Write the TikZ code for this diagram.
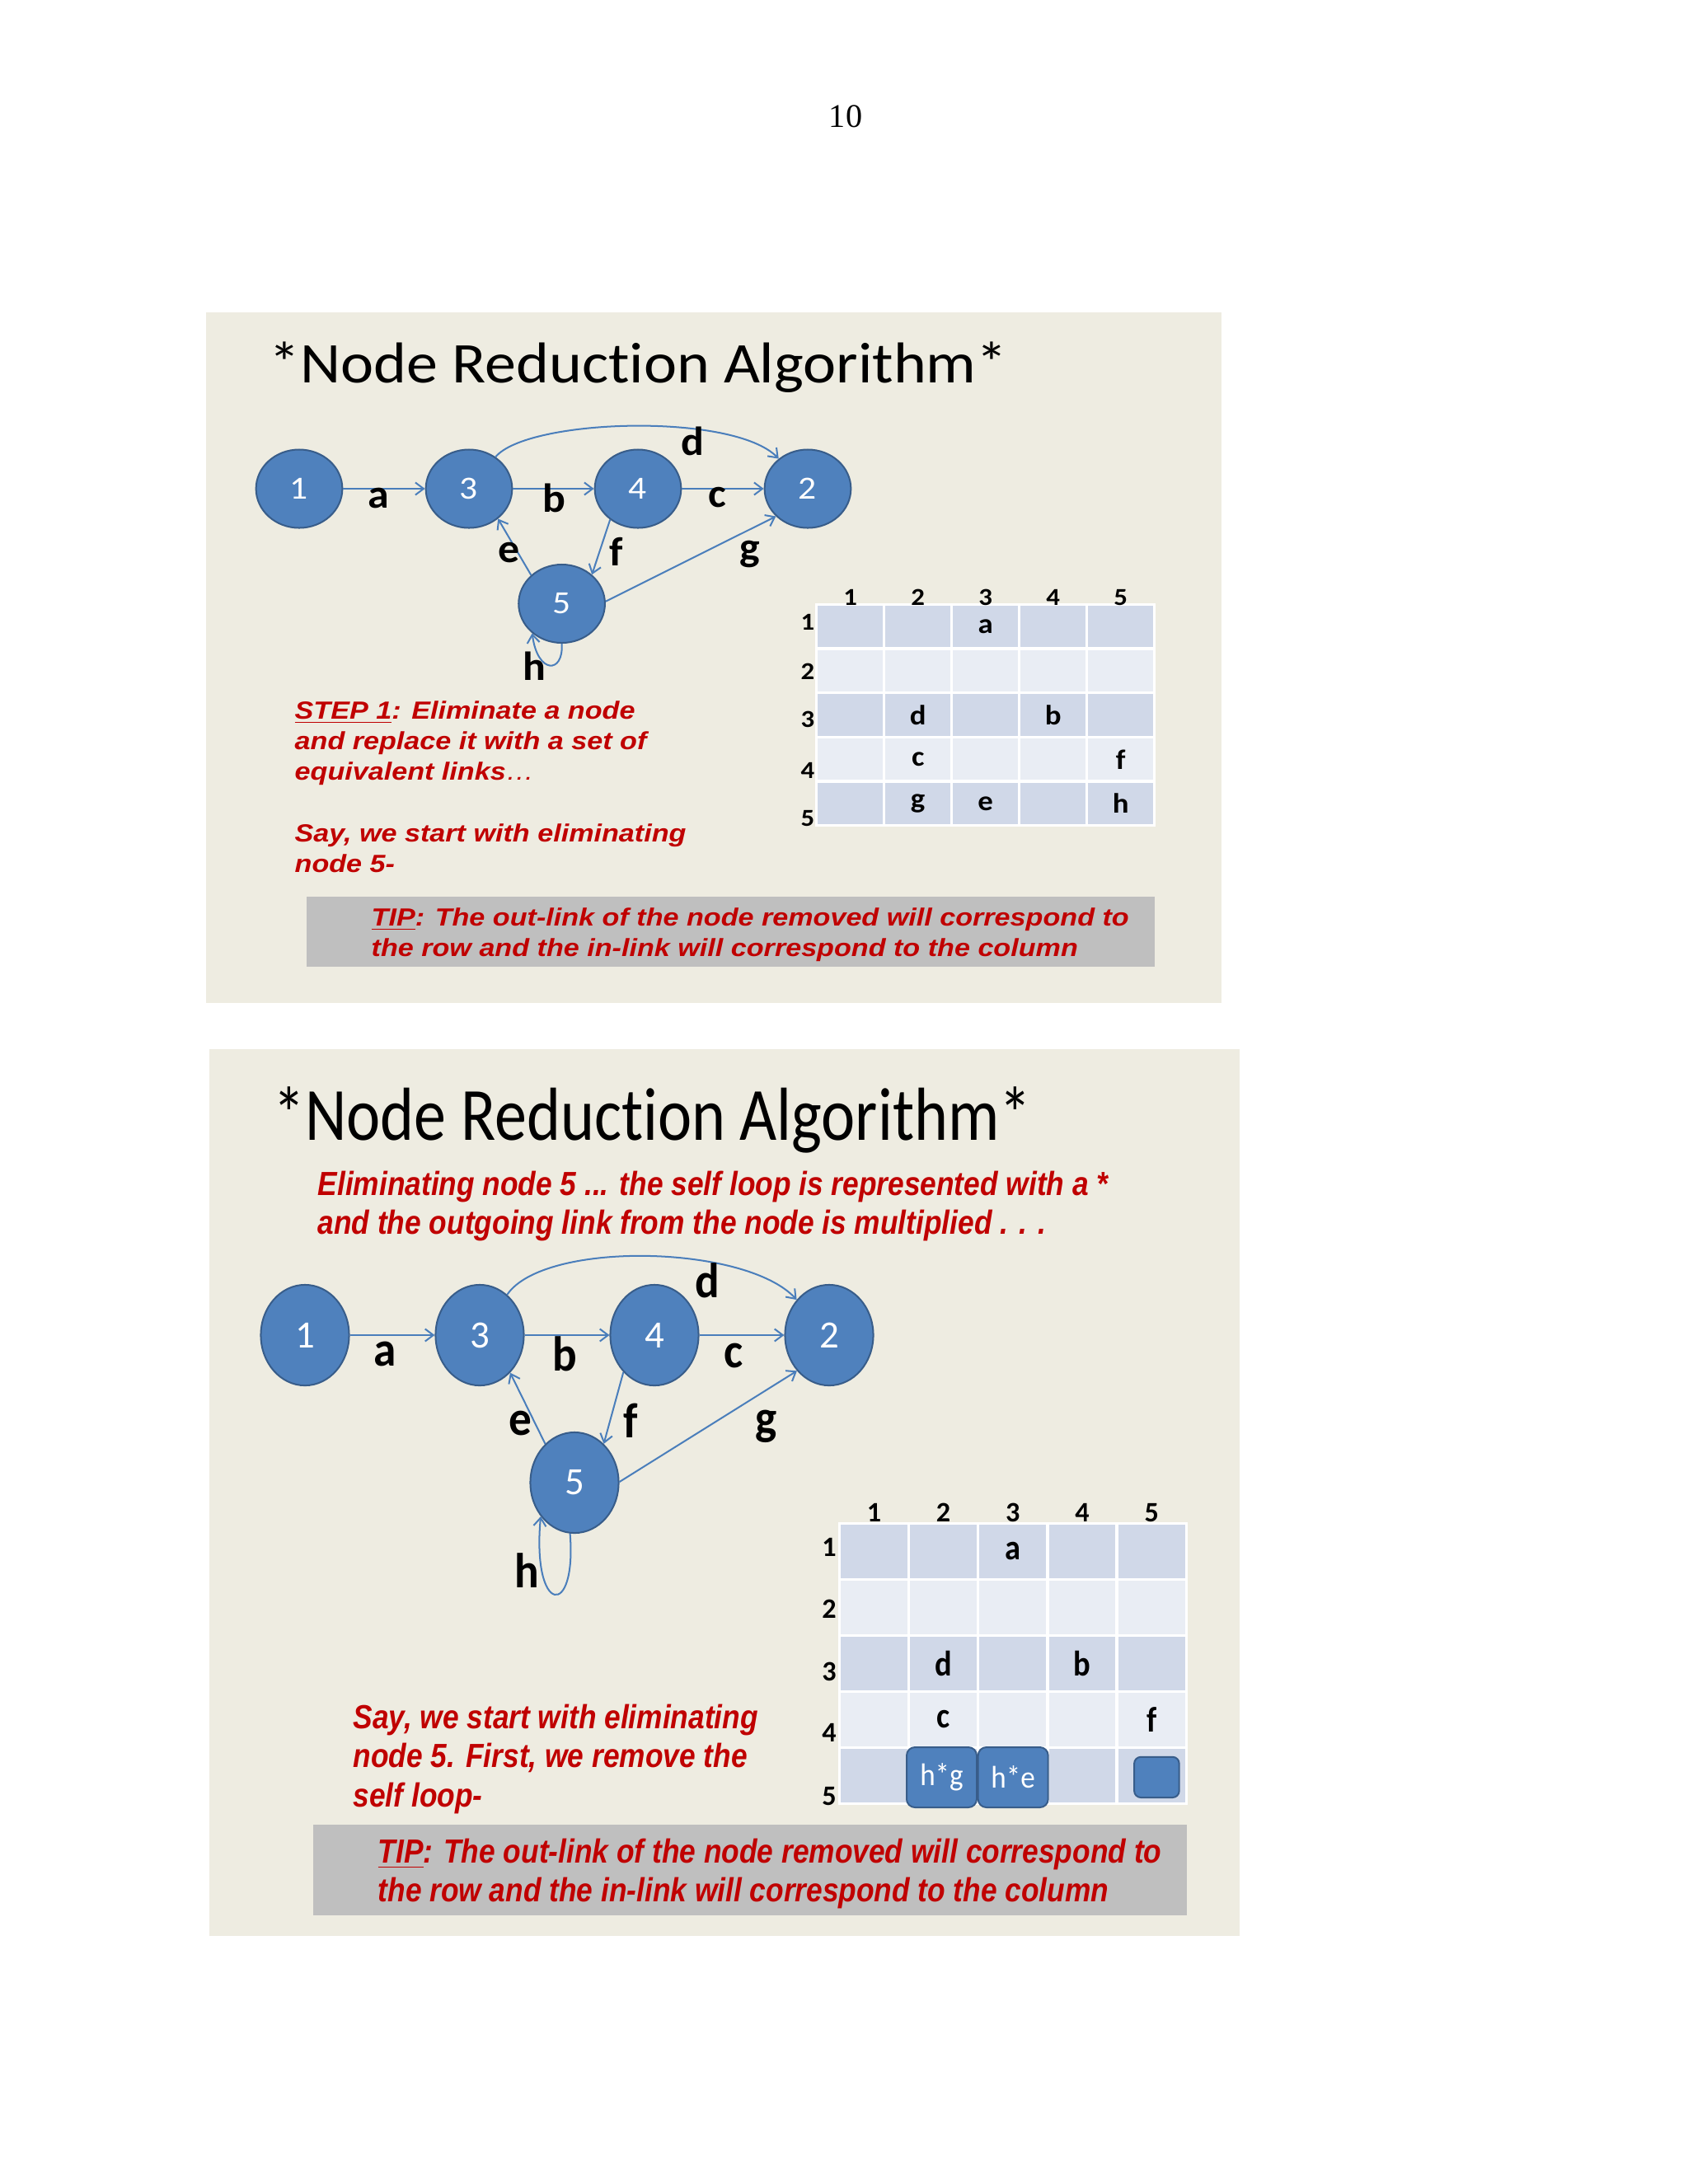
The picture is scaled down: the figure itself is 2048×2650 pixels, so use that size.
\documentclass[tikz,border=0pt]{standalone}
\usepackage{fontspec}
\usepackage{graphicx}
\usetikzlibrary{arrows.meta,shapes.geometric}
\newfontfamily\calf[Ligatures=NoCommon]{Carlito}
\newfontfamily\arf{Liberation Sans}
\newfontfamily\timf{Liberation Serif}
\definecolor{slidebg}{HTML}{EEECE1}
\definecolor{tipgray}{HTML}{BFBFBF}
\definecolor{nblue}{HTML}{4F81BD}
\definecolor{nedge}{HTML}{385D8A}
\definecolor{eblue}{HTML}{4A7EBB}
\definecolor{tred}{HTML}{C00000}
\definecolor{rowdark}{HTML}{D0D8E8}
\definecolor{rowlight}{HTML}{E9EDF4}
\newcommand{\vfit}[2]{\scalebox{1}[#1]{#2}}
\newcommand{\vtab}[2]{\scalebox{1}[#1]{\begin{tabular}[t]{@{}l@{}}#2\end{tabular}}}
% 5x5 link matrix: x0, y0, cell width, cell height
\newcommand{\lgrid}[4]{%
  \foreach \r in {1,...,5}{%
    \ifodd\r \def\rowfill{rowdark}\else \def\rowfill{rowlight}\fi
    \foreach \c in {1,...,5}
      \filldraw[fill=\rowfill, draw=white, line width=1pt]
        ({#1+(\c-1)*#3},{#2+(\r-1)*#4}) rectangle ++(#3,#4);
  }}
\tikzset{
  panel/.style={fill=slidebg},
  tipbg/.style={fill=tipgray},
  vtx/.style={ellipse, fill=nblue, draw=nedge, line width=0.6pt, inner sep=0pt, text=white},
  vtxa/.style={vtx, minimum width=31.3pt, minimum height=28.4pt, font=\calf\fontsize{13}{15}\selectfont},
  vtxb/.style={vtx, minimum width=32pt, minimum height=36.5pt, font=\calf\fontsize{14}{16}\selectfont},
  lnk/.style={eblue, line width=0.6pt, -{Straight Barb[length=3pt,width=4.5pt]}},
  elbla/.style={inner sep=0pt, font=\calf\bfseries\fontsize{15.5}{17}\selectfont},
  elblb/.style={inner sep=0pt, font=\calf\bfseries\fontsize{16.5}{18}\selectfont},
  ttla/.style={anchor=base west, inner sep=0pt, font=\calf\fontsize{22.7}{26}\selectfont},
  ttlb/.style={ttla, font=\calf\fontsize{23.3}{26}\selectfont},
  rtxa/.style={anchor=base west, inner sep=0pt, text=tred, font=\arf\bfseries\itshape\fontsize{10.2}{12.6}\selectfont},
  rtxb/.style={rtxa, font=\arf\bfseries\itshape\fontsize{10.55}{12.4}\selectfont},
  hlbla/.style={inner sep=0pt, font=\calf\bfseries\fontsize{9.8}{11}\selectfont},
  hlblb/.style={inner sep=0pt, font=\calf\bfseries\fontsize{10.2}{11}\selectfont},
  clbla/.style={inner sep=0pt, font=\calf\bfseries\fontsize{11}{12}\selectfont},
  clblb/.style={inner sep=0pt, font=\calf\bfseries\fontsize{11.5}{12}\selectfont},
  mbox/.style={rectangle, rounded corners=3pt, fill=nblue, draw=nedge, line width=0.6pt, inner sep=0pt, text=white, font=\calf\fontsize{10.5}{12}\selectfont},
  pgn/.style={inner sep=0pt, font=\timf\fontsize{12}{14}\selectfont},
}
\begin{document}
\begin{tikzpicture}[x=0.29883pt, y=-0.29883pt]
\useasboundingbox (0,0) rectangle (2048,2650);
\fill[white] (0,0) rectangle (2048,2650);
\node[pgn] (pgno) at (1026,141) {10};

% ---- first slide
\fill[panel] (250,379) rectangle (1482,1217);
\node[ttla] (p1title) at (326,464) {\vfit{0.92}{*Node Reduction Algorithm*}};
\node[vtxa] (p1n1) at (363,593) {\vfit{0.9}{1}};
\node[vtxa] (p1n3) at (569,593) {\vfit{0.9}{3}};
\node[vtxa] (p1n4) at (774,593) {\vfit{0.9}{4}};
\node[vtxa] (p1n2) at (980,593) {\vfit{0.9}{2}};
\node[vtxa] (p1n5) at (681.6,732.5) {\vfit{0.9}{5}};
\draw[lnk] (p1n1) -- (p1n3);
\draw[lnk] (p1n3) -- (p1n4);
\draw[lnk] (p1n4) -- (p1n2);
\draw[lnk] (p1n3) .. controls (640,508) and (890,500) .. (p1n2);
\draw[lnk] (p1n5.137) -- (p1n3.314);
\draw[lnk] (p1n4.228) -- (p1n5.44);
\draw[lnk] (p1n5.3) -- (p1n2.221);
\draw[lnk] (p1n5.270) .. controls (684,818) and (652,818) .. (p1n5.225);
\node[elbla] (p1la) at (459,604) {\vfit{0.95}{a}};
\node[elbla] (p1lb) at (672,604) {\vfit{0.95}{b}};
\node[elbla] (p1lc) at (870,604) {\vfit{0.95}{c}};
\node[elbla] (p1ld) at (840,535) {\vfit{0.95}{d}};
\node[elbla] (p1le) at (618,671) {\vfit{0.95}{e}};
\node[elbla] (p1lf) at (748,669) {\vfit{0.95}{f}};
\node[elbla] (p1lg) at (910,673) {\vfit{0.95}{g}};
\node[elbla] (p1lh) at (648,808) {\vfit{0.95}{h}};

\lgrid{990.7}{733.3}{82}{53.7}
\foreach \c in {1,...,5}
  \node[hlbla, anchor=base] (p1h\c) at ({990.7+(\c-0.5)*82},734) {\vfit{0.9}{\c}};
\foreach \r/\y in {1/755,2/815,3/873,4/935,5/993}
  \node[hlbla] (p1v\r) at (980,\y) {\vfit{0.9}{\r}};
\foreach \t/\r/\c in {a/1/3,d/3/2,b/3/4,c/4/2,f/4/5,g/5/2,e/5/3,h/5/5}
  \node[clbla] (p1m\r\c) at ({990.7+(\c-0.5)*82},{733.3+(\r-0.5)*53.7}) {\vfit{0.92}{\t}};

\node[rtxa] (p1step) at (357,872) {\vtab{0.88}{\underline{STEP 1}: Eliminate a node\\ and replace it with a set of\\ equivalent links{\mdseries…}}};
\node[rtxa] (p1say) at (357,1021) {\vtab{0.88}{Say, we start with eliminating\\ node 5-}};
\fill[tipbg] (372,1088) rectangle (1401,1173);
\node[rtxa] (p1tip) at (450,1123) {\vtab{0.88}{\underline{TIP}: The out-link of the node removed will correspond to\\ the row and the in-link will correspond to the column}};

% ---- second slide
\fill[panel] (253.5,1272.6) rectangle (1504,2349);
\node[ttlb] (p2title) at (331,1383) {\vfit{1.17}{*Node Reduction Algorithm*}};
\node[rtxb] (p2elim) at (385,1450) {\vtab{1.15}{Eliminating node 5 ... the self loop is represented with a *\\ and the outgoing link from the node is multiplied . . .}};
\node[vtxb] (p2n1) at (370,1620) {\vfit{1.0}{1}};
\node[vtxb] (p2n3) at (582,1620) {\vfit{1.0}{3}};
\node[vtxb] (p2n4) at (794,1620) {\vfit{1.0}{4}};
\node[vtxb] (p2n2) at (1006,1620) {\vfit{1.0}{2}};
\node[vtxb] (p2n5) at (697,1799) {\vfit{1.0}{5}};
\draw[lnk] (p2n1) -- (p2n3);
\draw[lnk] (p2n3) -- (p2n4);
\draw[lnk] (p2n4) -- (p2n2);
\draw[lnk] (p2n3) .. controls (660,1505) and (905,1510) .. (p2n2);
\draw[lnk] (p2n5.127) -- (p2n3.309);
\draw[lnk] (p2n4.230) -- (p2n5.53);
\draw[lnk] (p2n5.1) -- (p2n2.228);
\draw[lnk] (p2n5.265) .. controls (700,1965) and (645,1960) .. (p2n5.225);
\node[elblb] (p2la) at (467,1643) {\vfit{1.08}{a}};
\node[elblb] (p2lb) at (685,1643) {\vfit{1.08}{b}};
\node[elblb] (p2lc) at (890,1645) {\vfit{1.08}{c}};
\node[elblb] (p2ld) at (858,1554) {\vfit{1.08}{d}};
\node[elblb] (p2le) at (631,1727) {\vfit{1.08}{e}};
\node[elblb] (p2lf) at (765,1724) {\vfit{1.08}{f}};
\node[elblb] (p2lg) at (930,1731) {\vfit{1.08}{g}};
\node[elblb] (p2lh) at (639,1906) {\vfit{1.08}{h}};

\lgrid{1018.3}{1848.3}{84.2}{68}
\foreach \c in {1,...,5}
  \node[hlblb, anchor=base] (p2h\c) at ({1018.3+(\c-0.5)*84.2},1846) {\vfit{1.0}{\c}};
\foreach \r/\y in {1/1877,2/1952,3/2028,4/2102,5/2180}
  \node[hlblb] (p2v\r) at (1006,\y) {\vfit{1.0}{\r}};
\foreach \t/\r/\c in {a/1/3,d/3/2,b/3/4,c/4/2,f/4/5}
  \node[clblb] (p2m\r\c) at ({1018.3+(\c-0.5)*84.2},{1848.3+(\r-0.5)*68}) {\vfit{1.12}{\t}};
\node[mbox, minimum width=25.4pt, minimum height=21.8pt] (p2hg) at (1142.5,2156.5) {\vfit{1.08}{h*g}};
\node[mbox, minimum width=25.4pt, minimum height=21.8pt] (p2he) at (1229.2,2156.5) {\vfit{1.08}{h*e}};
\node[mbox, rounded corners=2.4pt, minimum width=16.3pt, minimum height=14.7pt] (p2sq) at (1403.4,2156.4) {};

\node[rtxb] (p2say) at (428,2097) {\vtab{1.15}{Say, we start with eliminating\\ node 5. First, we remove the\\ self loop-}};
\fill[tipbg] (380,2214) rectangle (1440,2324);
\node[rtxb] (p2tip) at (458,2260) {\vtab{1.15}{\underline{TIP}: The out-link of the node removed will correspond to\\ the row and the in-link will correspond to the column}};
\end{tikzpicture}
\end{document}
